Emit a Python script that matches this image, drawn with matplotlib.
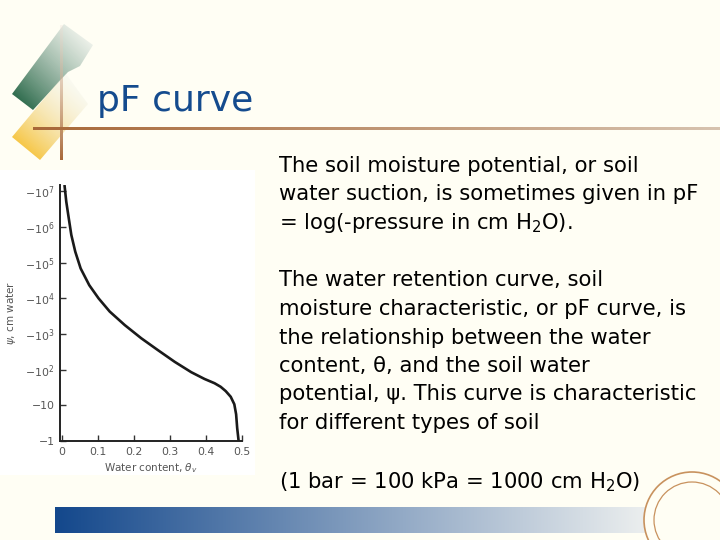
import numpy as np
import matplotlib
matplotlib.use("Agg")
import matplotlib.pyplot as plt
from matplotlib.patches import Polygon, Rectangle, Circle

# data (theta_v vs log10 of suction in cm water)
theta = [0.007, 0.012, 0.019, 0.026, 0.037, 0.052, 0.076, 0.102, 0.133, 0.175,
         0.221, 0.267, 0.314, 0.360, 0.397, 0.425, 0.442, 0.456, 0.470, 0.480,
         0.485, 0.488, 0.492]
log_suction = [7.18, 6.71, 6.24, 5.78, 5.31, 4.84, 4.37, 4.0, 3.63, 3.25,
               2.88, 2.55, 2.22, 1.93, 1.74, 1.62, 1.52, 1.40, 1.24, 1.03,
               0.75, 0.36, 0.0]
x_ticks = [0, 0.1, 0.2, 0.3, 0.4, 0.5]
x_ticklabels = ["0", "0.1", "0.2", "0.3", "0.4", "0.5"]
y_ticks = [0, 1, 2, 3, 4, 5, 6, 7]
y_ticklabels = ["\u22121", "\u221210", r"$-10^2$", r"$-10^3$", r"$-10^4$",
                r"$-10^5$", r"$-10^6$", r"$-10^7$"]

title = "pF curve"
body_lines = [
    "The soil moisture potential, or soil",
    "water suction, is sometimes given in pF",
    r"= log(-pressure in cm H$_2$O).",
    "The water retention curve, soil",
    "moisture characteristic, or pF curve, is",
    "the relationship between the water",
    "content, \u03b8, and the soil water",
    "potential, \u03c8. This curve is characteristic",
    "for different types of soil",
    r"(1 bar = 100 kPa = 1000 cm H$_2$O)",
]
body_baselines = [172, 200.5, 229, 286.5, 315, 343.5, 372, 400.5, 429, 488]

bg = np.array([255, 254, 244]) / 255.0

fig = plt.figure(figsize=(7.2, 5.4), dpi=100)
fig.patch.set_facecolor(bg)

# slide decorations in pixel coordinates
ax_bg = fig.add_axes([0, 0, 1, 1])
ax_bg.set_xlim(0, 720)
ax_bg.set_ylim(540, 0)
ax_bg.axis("off")


def gradient_patch(ax, pts, c0, c1, p0, p1, a0=1.0, a1=1.0, z=1):
    pts = np.array(pts, dtype=float)
    x0, y0 = pts.min(axis=0)
    x1, y1 = pts.max(axis=0)
    xs = np.linspace(x0, x1, 200)
    ys = np.linspace(y0, y1, 200)
    X, Y = np.meshgrid(xs, ys)
    d = np.array(p1, float) - np.array(p0, float)
    t = ((X - p0[0]) * d[0] + (Y - p0[1]) * d[1]) / (d @ d)
    t = np.clip(t, 0, 1)[..., None]
    rgb = np.array(c0) * (1 - t) + np.array(c1) * t
    alpha = a0 * (1 - t) + a1 * t
    img = np.concatenate([rgb, alpha], axis=2)
    im = ax.imshow(img, extent=[x0, x1, y1, y0], origin="upper",
                   aspect="auto", zorder=z, interpolation="bilinear")
    poly = Polygon(pts, closed=True, transform=ax.transData,
                   facecolor="none", edgecolor="none")
    ax.add_patch(poly)
    im.set_clip_path(poly)


green = np.array([50, 110, 80]) / 255
yellow = np.array([247, 196, 60]) / 255
light = np.array([240, 243, 238]) / 255

gradient_patch(ax_bg, [(12, 94), (33, 110), (68, 72), (80, 66), (93, 45), (64, 24)],
               green, light, (20, 100), (88, 32), 1.0, 0.7)
gradient_patch(ax_bg, [(12, 137), (40, 160), (88, 104), (66, 74), (58, 82)],
               yellow, light, (22, 150), (80, 85), 1.0, 0.3)

# brown rule lines
brown = np.array([168, 104, 56]) / 255
gradient_patch(ax_bg, [(59.5, 25), (62.5, 25), (62.5, 160), (59.5, 160)],
               np.array([240, 225, 215]) / 255, brown, (61, 25), (61, 160), 0.3, 1.0, z=3)
gradient_patch(ax_bg, [(33, 126.5), (720, 126.5), (720, 130), (33, 130)],
               brown, np.array([215, 195, 175]) / 255, (33, 128), (720, 128), z=3)

# bottom gradient bar
gradient_patch(ax_bg, [(55, 507), (720, 507), (720, 533), (55, 533)],
               np.array([20, 72, 140]) / 255, np.array([248, 248, 244]) / 255,
               (55, 520), (680, 520), z=1)

# seal in the bottom-right corner
seal_c = "#c8925e"
ax_bg.add_patch(Circle((692, 520), 48, facecolor=bg, edgecolor=seal_c, lw=1.2, zorder=4))
ax_bg.add_patch(Circle((692, 520), 38, facecolor="none", edgecolor=seal_c, lw=0.9, zorder=4))

# white picture area behind the chart
ax_bg.add_patch(Rectangle((0, 170), 255, 305, facecolor="white", edgecolor="none", zorder=1))

ax_bg.text(97, 111, title, fontsize=26, color="#144b8e", va="baseline", ha="left", zorder=5)
for line, yb in zip(body_lines, body_baselines):
    ax_bg.text(279, yb, line, fontsize=15.2, color="black", va="baseline", ha="left", zorder=5)

# the chart itself
ax = fig.add_axes([60 / 720, 1 - 441 / 540, 181.5 / 720, 256 / 540])
ax.set_facecolor("white")
ax.plot(theta, log_suction, color="#1a1a1a", lw=1.9, solid_capstyle="butt",
        solid_joinstyle="round")
ax.set_xlim(-0.0055, 0.5)
ax.set_ylim(0, 7.18)
ax.set_xticks(x_ticks)
ax.set_xticklabels(x_ticklabels)
ax.set_yticks(y_ticks)
ax.set_yticklabels(y_ticklabels)
for s in ["top", "right"]:
    ax.spines[s].set_visible(False)
for s in ["left", "bottom"]:
    ax.spines[s].set_linewidth(1.4)
    ax.spines[s].set_color("#222222")
ax.tick_params(direction="in", length=4, width=1, colors="#333333",
               labelsize=7.8, labelcolor="#555555", pad=4)
ax.set_xlabel(r"Water content, $\theta_v$", fontsize=7.5, color="#555555", labelpad=3)
ax.set_ylabel(r"$\psi$, cm water", fontsize=7.5, color="#555555", labelpad=5)

fig.savefig("out.png", dpi=100, facecolor=fig.get_facecolor())
